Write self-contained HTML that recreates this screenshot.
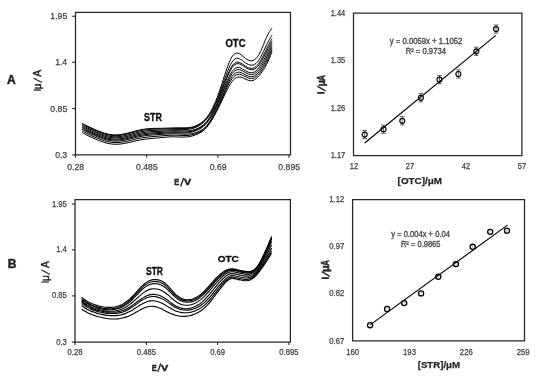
<!DOCTYPE html>
<html><head><meta charset="utf-8"><style>
html,body{margin:0;padding:0;background:#fff;width:550px;height:380px;overflow:hidden;position:relative}
</style></head><body>
<svg width="550" height="380" viewBox="0 0 550 380" style="position:absolute;left:0;top:0;will-change:transform">
<g font-family='"Liberation Sans", sans-serif'>
<path d="M75.5,12.4H290.5V154.9H75.5Z" fill="none" stroke="#262626" stroke-width="1.25"/>
<path d="M72.2,16.3H75.5" stroke="#262626" stroke-width="1.1"/>
<text x="67.20" y="19.48" font-size="9.5" text-anchor="end" fill="#404040" stroke="#404040" stroke-width="0.25" textLength="16.84" lengthAdjust="spacingAndGlyphs">1.95</text>
<path d="M72.2,62.3H75.5" stroke="#262626" stroke-width="1.1"/>
<text x="67.20" y="65.48" font-size="9.5" text-anchor="end" fill="#404040" stroke="#404040" stroke-width="0.25" textLength="12.03" lengthAdjust="spacingAndGlyphs">1.4</text>
<path d="M72.2,108.6H75.5" stroke="#262626" stroke-width="1.1"/>
<text x="67.20" y="111.78" font-size="9.5" text-anchor="end" fill="#404040" stroke="#404040" stroke-width="0.25" textLength="16.84" lengthAdjust="spacingAndGlyphs">0.85</text>
<path d="M72.2,154.9H75.5" stroke="#262626" stroke-width="1.1"/>
<text x="67.20" y="158.08" font-size="9.5" text-anchor="end" fill="#404040" stroke="#404040" stroke-width="0.25" textLength="12.03" lengthAdjust="spacingAndGlyphs">0.3</text>
<path d="M75.5,154.9V157.70000000000002" stroke="#262626" stroke-width="1.1"/>
<text x="75.70" y="169.68" font-size="9.5" text-anchor="middle" fill="#404040" stroke="#404040" stroke-width="0.25" textLength="16.84" lengthAdjust="spacingAndGlyphs">0.28</text>
<path d="M146.7,154.9V157.70000000000002" stroke="#262626" stroke-width="1.1"/>
<text x="146.90" y="169.68" font-size="9.5" text-anchor="middle" fill="#404040" stroke="#404040" stroke-width="0.25" textLength="21.66" lengthAdjust="spacingAndGlyphs">0.485</text>
<path d="M217.9,154.9V157.70000000000002" stroke="#262626" stroke-width="1.1"/>
<text x="218.10" y="169.68" font-size="9.5" text-anchor="middle" fill="#404040" stroke="#404040" stroke-width="0.25" textLength="16.84" lengthAdjust="spacingAndGlyphs">0.69</text>
<path d="M289.0,154.9V157.70000000000002" stroke="#262626" stroke-width="1.1"/>
<text x="289.20" y="169.68" font-size="9.5" text-anchor="middle" fill="#404040" stroke="#404040" stroke-width="0.25" textLength="21.66" lengthAdjust="spacingAndGlyphs">0.895</text>
<text x="176.80" y="185.20" font-size="9.4" text-anchor="middle" font-weight="bold" fill="#262626" stroke="#262626" stroke-width="0.5" textLength="5.00" lengthAdjust="spacingAndGlyphs">E</text>
<text x="187.60" y="185.20" font-size="9.4" text-anchor="middle" font-weight="bold" fill="#262626" stroke="#262626" stroke-width="0.5" textLength="7.20" lengthAdjust="spacingAndGlyphs">V</text>
<path d="M180.6,186.4L183.7,177.9" stroke="#262626" stroke-width="1.35"/>
<g transform="translate(40.90 90.80) rotate(-90)">
<rect x="0.10" y="-7.20" width="1.30" height="7.20" fill="#262626"/>
<text x="4.40" y="0" font-size="10.0" text-anchor="middle" fill="#262626" textLength="5.75" lengthAdjust="spacingAndGlyphs" stroke="#262626" stroke-width="0.45">μ</text>
<path d="M8.30,0.90L12.60,-7.20" stroke="#262626" stroke-width="1.15"/>
<text x="17.55" y="0" font-size="10.0" text-anchor="middle" fill="#262626" textLength="6.90" lengthAdjust="spacingAndGlyphs" stroke="#262626" stroke-width="0.45">A</text>
</g>
<text x="11.40" y="83.60" font-size="12.0" text-anchor="middle" font-weight="bold" fill="#262626" stroke="#262626" stroke-width="0.5">A</text>
<text x="153.00" y="121.30" font-size="10.4" text-anchor="middle" font-weight="bold" fill="#111" stroke="#111" stroke-width="0.35" textLength="17.80" lengthAdjust="spacingAndGlyphs">STR</text>
<text x="235.50" y="46.60" font-size="10.4" text-anchor="middle" font-weight="bold" fill="#111" stroke="#111" stroke-width="0.35" textLength="20.00" lengthAdjust="spacingAndGlyphs">OTC</text>
<path d="M82.00,123.20C82.50,123.48 84.00,124.32 85.00,124.85C86.00,125.38 87.00,125.89 88.00,126.38C89.00,126.87 90.00,127.34 91.00,127.80C92.00,128.27 93.00,128.71 94.00,129.14C95.00,129.58 96.00,130.01 97.00,130.42C98.00,130.83 99.00,131.24 100.00,131.62C101.00,132.00 102.00,132.37 103.00,132.70C104.00,133.03 105.00,133.35 106.00,133.62C107.00,133.89 108.00,134.13 109.00,134.32C110.00,134.51 111.00,134.66 112.00,134.75C113.00,134.85 114.00,134.90 115.00,134.91C116.00,134.92 117.00,134.88 118.00,134.81C119.00,134.74 120.00,134.62 121.00,134.48C122.00,134.34 123.00,134.15 124.00,133.95C125.00,133.75 126.00,133.51 127.00,133.27C128.00,133.03 129.00,132.76 130.00,132.49C131.00,132.22 132.00,131.93 133.00,131.66C134.00,131.39 135.00,131.11 136.00,130.85C137.00,130.60 138.00,130.35 139.00,130.13C140.00,129.91 141.00,129.71 142.00,129.53C143.00,129.35 144.00,129.20 145.00,129.06C146.00,128.92 147.00,128.81 148.00,128.72C149.00,128.63 150.00,128.56 151.00,128.50C152.00,128.45 153.00,128.41 154.00,128.39C155.00,128.36 156.00,128.35 157.00,128.33C158.00,128.32 159.00,128.32 160.00,128.30C161.00,128.28 162.00,128.26 163.00,128.24C164.00,128.21 165.00,128.18 166.00,128.15C167.00,128.12 168.00,128.08 169.00,128.05C170.00,128.02 171.00,127.98 172.00,127.95C173.00,127.92 174.00,127.89 175.00,127.86C176.00,127.84 177.00,127.82 178.00,127.81C179.00,127.80 180.00,127.80 181.00,127.81C182.00,127.81 183.00,127.83 184.00,127.83C185.00,127.82 186.00,127.81 187.00,127.75C188.00,127.69 189.00,127.62 190.00,127.47C191.00,127.32 192.00,127.13 193.00,126.86C194.00,126.58 195.00,126.24 196.00,125.81C197.00,125.38 198.00,124.88 199.00,124.28C200.00,123.68 201.00,123.01 202.00,122.21C203.00,121.41 204.00,120.52 205.00,119.46C206.00,118.39 207.00,117.21 208.00,115.81C209.00,114.41 210.00,112.85 211.00,111.06C212.00,109.27 213.00,107.27 214.00,105.07C215.00,102.86 216.00,100.44 217.00,97.84C218.00,95.24 219.00,92.40 220.00,89.47C221.00,86.55 222.00,83.37 223.00,80.30C224.00,77.22 225.00,73.96 226.00,71.04C227.00,68.13 228.00,65.20 229.00,62.82C230.00,60.44 231.00,58.32 232.00,56.78C233.00,55.23 234.00,54.17 235.00,53.56C236.00,52.95 237.00,52.92 238.00,53.11C239.00,53.30 240.00,54.02 241.00,54.70C242.00,55.38 243.00,56.40 244.00,57.20C245.00,57.99 246.00,58.88 247.00,59.47C248.00,60.06 249.00,60.54 250.00,60.72C251.00,60.90 252.00,60.90 253.00,60.54C254.00,60.18 255.00,59.56 256.00,58.55C257.00,57.54 258.00,56.19 259.00,54.47C260.00,52.74 261.00,50.46 262.00,48.19C263.00,45.92 264.00,43.18 265.00,40.85C266.00,38.52 267.00,36.14 268.00,34.21C269.00,32.29 270.33,30.35 271.00,29.28C271.67,28.21 271.83,28.04 272.00,27.80" fill="none" stroke="#000" stroke-width="1.0"/>
<path d="M82.00,123.94C82.50,124.21 84.00,125.06 85.00,125.59C86.00,126.12 87.00,126.63 88.00,127.12C89.00,127.62 90.00,128.09 91.00,128.55C92.00,129.01 93.00,129.45 94.00,129.89C95.00,130.32 96.00,130.75 97.00,131.16C98.00,131.57 99.00,131.98 100.00,132.36C101.00,132.74 102.00,133.11 103.00,133.44C104.00,133.78 105.00,134.09 106.00,134.36C107.00,134.63 108.00,134.87 109.00,135.06C110.00,135.25 111.00,135.40 112.00,135.50C113.00,135.60 114.00,135.65 115.00,135.66C116.00,135.67 117.00,135.64 118.00,135.56C119.00,135.49 120.00,135.38 121.00,135.24C122.00,135.10 123.00,134.92 124.00,134.72C125.00,134.52 126.00,134.28 127.00,134.04C128.00,133.80 129.00,133.53 130.00,133.27C131.00,133.00 132.00,132.72 133.00,132.45C134.00,132.18 135.00,131.90 136.00,131.65C137.00,131.40 138.00,131.15 139.00,130.94C140.00,130.72 141.00,130.52 142.00,130.34C143.00,130.16 144.00,130.01 145.00,129.87C146.00,129.73 147.00,129.62 148.00,129.53C149.00,129.43 150.00,129.36 151.00,129.30C152.00,129.24 153.00,129.21 154.00,129.17C155.00,129.14 156.00,129.13 157.00,129.11C158.00,129.09 159.00,129.08 160.00,129.05C161.00,129.03 162.00,129.00 163.00,128.97C164.00,128.94 165.00,128.90 166.00,128.87C167.00,128.83 168.00,128.79 169.00,128.76C170.00,128.72 171.00,128.69 172.00,128.66C173.00,128.63 174.00,128.60 175.00,128.58C176.00,128.56 177.00,128.55 178.00,128.54C179.00,128.53 180.00,128.54 181.00,128.54C182.00,128.54 183.00,128.56 184.00,128.55C185.00,128.54 186.00,128.52 187.00,128.46C188.00,128.39 189.00,128.31 190.00,128.15C191.00,128.00 192.00,127.80 193.00,127.52C194.00,127.24 195.00,126.89 196.00,126.46C197.00,126.03 198.00,125.54 199.00,124.94C200.00,124.34 201.00,123.68 202.00,122.88C203.00,122.08 204.00,121.17 205.00,120.14C206.00,119.11 207.00,118.03 208.00,116.70C209.00,115.37 210.00,113.88 211.00,112.18C212.00,110.48 213.00,108.57 214.00,106.50C215.00,104.42 216.00,102.14 217.00,99.72C218.00,97.31 219.00,94.67 220.00,91.99C221.00,89.31 222.00,86.41 223.00,83.63C224.00,80.85 225.00,77.93 226.00,75.30C227.00,72.67 228.00,70.06 229.00,67.86C230.00,65.66 231.00,63.60 232.00,62.11C233.00,60.62 234.00,59.56 235.00,58.92C236.00,58.28 237.00,58.16 238.00,58.26C239.00,58.37 240.00,58.96 241.00,59.54C242.00,60.12 243.00,61.04 244.00,61.75C245.00,62.47 246.00,63.30 247.00,63.84C248.00,64.39 249.00,64.81 250.00,65.01C251.00,65.22 252.00,65.35 253.00,65.08C254.00,64.82 255.00,64.29 256.00,63.42C257.00,62.56 258.00,61.37 259.00,59.89C260.00,58.40 261.00,56.47 262.00,54.52C263.00,52.56 264.00,50.25 265.00,48.17C266.00,46.09 267.00,43.95 268.00,42.04C269.00,40.12 270.33,37.87 271.00,36.69C271.67,35.50 271.83,35.22 272.00,34.92" fill="none" stroke="#000" stroke-width="1.0"/>
<path d="M82.00,125.04C82.50,125.32 84.00,126.17 85.00,126.70C86.00,127.24 87.00,127.74 88.00,128.24C89.00,128.73 90.00,129.20 91.00,129.66C92.00,130.12 93.00,130.57 94.00,131.00C95.00,131.44 96.00,131.87 97.00,132.28C98.00,132.69 99.00,133.10 100.00,133.48C101.00,133.86 102.00,134.23 103.00,134.56C104.00,134.89 105.00,135.20 106.00,135.47C107.00,135.74 108.00,135.98 109.00,136.18C110.00,136.37 111.00,136.52 112.00,136.62C113.00,136.72 114.00,136.77 115.00,136.78C116.00,136.80 117.00,136.76 118.00,136.69C119.00,136.62 120.00,136.51 121.00,136.37C122.00,136.24 123.00,136.06 124.00,135.86C125.00,135.67 126.00,135.44 127.00,135.20C128.00,134.96 129.00,134.70 130.00,134.44C131.00,134.18 132.00,133.90 133.00,133.63C134.00,133.37 135.00,133.10 136.00,132.85C137.00,132.60 138.00,132.36 139.00,132.14C140.00,131.93 141.00,131.73 142.00,131.55C143.00,131.38 144.00,131.22 145.00,131.08C146.00,130.95 147.00,130.83 148.00,130.74C149.00,130.64 150.00,130.57 151.00,130.50C152.00,130.44 153.00,130.40 154.00,130.36C155.00,130.32 156.00,130.29 157.00,130.27C158.00,130.24 159.00,130.21 160.00,130.18C161.00,130.15 162.00,130.11 163.00,130.07C164.00,130.03 165.00,129.99 166.00,129.94C167.00,129.90 168.00,129.86 169.00,129.82C170.00,129.79 171.00,129.75 172.00,129.72C173.00,129.69 174.00,129.67 175.00,129.66C176.00,129.64 177.00,129.64 178.00,129.63C179.00,129.63 180.00,129.64 181.00,129.63C182.00,129.62 183.00,129.62 184.00,129.59C185.00,129.55 186.00,129.52 187.00,129.43C188.00,129.34 189.00,129.24 190.00,129.06C191.00,128.88 192.00,128.66 193.00,128.36C194.00,128.06 195.00,127.69 196.00,127.25C197.00,126.80 198.00,126.30 199.00,125.69C200.00,125.08 201.00,124.41 202.00,123.60C203.00,122.79 204.00,121.84 205.00,120.83C206.00,119.81 207.00,118.80 208.00,117.52C209.00,116.24 210.00,114.79 211.00,113.15C212.00,111.51 213.00,109.67 214.00,107.68C215.00,105.69 216.00,103.52 217.00,101.23C218.00,98.94 219.00,96.46 220.00,93.95C221.00,91.44 222.00,88.74 223.00,86.16C224.00,83.59 225.00,80.91 226.00,78.48C227.00,76.05 228.00,73.66 229.00,71.58C230.00,69.51 231.00,67.50 232.00,66.05C233.00,64.60 234.00,63.54 235.00,62.88C236.00,62.22 237.00,62.03 238.00,62.07C239.00,62.11 240.00,62.61 241.00,63.12C242.00,63.63 243.00,64.47 244.00,65.13C245.00,65.79 246.00,66.57 247.00,67.08C248.00,67.59 249.00,68.00 250.00,68.19C251.00,68.37 252.00,68.46 253.00,68.19C254.00,67.91 255.00,67.37 256.00,66.52C257.00,65.67 258.00,64.50 259.00,63.09C260.00,61.68 261.00,59.90 262.00,58.07C263.00,56.25 264.00,54.13 265.00,52.14C266.00,50.15 267.00,48.08 268.00,46.13C269.00,44.18 270.33,41.70 271.00,40.43C271.67,39.16 271.83,38.81 272.00,38.49" fill="none" stroke="#000" stroke-width="1.0"/>
<path d="M82.00,126.14C82.50,126.42 84.00,127.28 85.00,127.81C86.00,128.35 87.00,128.86 88.00,129.35C89.00,129.84 90.00,130.32 91.00,130.78C92.00,131.24 93.00,131.68 94.00,132.12C95.00,132.56 96.00,132.98 97.00,133.39C98.00,133.81 99.00,134.21 100.00,134.59C101.00,134.97 102.00,135.34 103.00,135.67C104.00,136.00 105.00,136.32 106.00,136.59C107.00,136.86 108.00,137.10 109.00,137.29C110.00,137.48 111.00,137.63 112.00,137.73C113.00,137.84 114.00,137.89 115.00,137.90C116.00,137.92 117.00,137.89 118.00,137.82C119.00,137.76 120.00,137.65 121.00,137.51C122.00,137.38 123.00,137.20 124.00,137.01C125.00,136.82 126.00,136.59 127.00,136.36C128.00,136.13 129.00,135.87 130.00,135.61C131.00,135.35 132.00,135.08 133.00,134.82C134.00,134.56 135.00,134.29 136.00,134.04C137.00,133.80 138.00,133.56 139.00,133.35C140.00,133.14 141.00,132.94 142.00,132.77C143.00,132.59 144.00,132.44 145.00,132.30C146.00,132.16 147.00,132.05 148.00,131.95C149.00,131.85 150.00,131.77 151.00,131.70C152.00,131.63 153.00,131.59 154.00,131.54C155.00,131.49 156.00,131.46 157.00,131.42C158.00,131.39 159.00,131.35 160.00,131.31C161.00,131.27 162.00,131.22 163.00,131.17C164.00,131.12 165.00,131.07 166.00,131.02C167.00,130.97 168.00,130.93 169.00,130.89C170.00,130.85 171.00,130.81 172.00,130.78C173.00,130.76 174.00,130.74 175.00,130.73C176.00,130.72 177.00,130.72 178.00,130.73C179.00,130.74 180.00,130.76 181.00,130.79C182.00,130.82 183.00,130.89 184.00,130.90C185.00,130.92 186.00,130.93 187.00,130.89C188.00,130.85 189.00,130.78 190.00,130.65C191.00,130.51 192.00,130.33 193.00,130.07C194.00,129.82 195.00,129.50 196.00,129.11C197.00,128.72 198.00,128.29 199.00,127.75C200.00,127.22 201.00,126.63 202.00,125.90C203.00,125.17 204.00,124.37 205.00,123.37C206.00,122.36 207.00,121.21 208.00,119.87C209.00,118.53 210.00,117.02 211.00,115.33C212.00,113.64 213.00,111.76 214.00,109.75C215.00,107.74 216.00,105.57 217.00,103.27C218.00,100.97 219.00,98.50 220.00,95.97C221.00,93.45 222.00,90.73 223.00,88.10C224.00,85.47 225.00,82.69 226.00,80.19C227.00,77.69 228.00,75.18 229.00,73.08C230.00,70.99 231.00,69.08 232.00,67.64C233.00,66.21 234.00,65.15 235.00,64.48C236.00,63.80 237.00,63.59 238.00,63.61C239.00,63.62 240.00,64.08 241.00,64.56C242.00,65.04 243.00,65.84 244.00,66.48C245.00,67.12 246.00,67.88 247.00,68.38C248.00,68.88 249.00,69.26 250.00,69.46C251.00,69.67 252.00,69.84 253.00,69.61C254.00,69.39 255.00,68.90 256.00,68.12C257.00,67.34 258.00,66.26 259.00,64.95C260.00,63.64 261.00,61.97 262.00,60.25C263.00,58.53 264.00,56.54 265.00,54.63C266.00,52.71 267.00,50.72 268.00,48.77C269.00,46.81 270.33,44.22 271.00,42.91C271.67,41.59 271.83,41.20 272.00,40.86" fill="none" stroke="#000" stroke-width="1.0"/>
<path d="M82.00,127.25C82.50,127.53 84.00,128.39 85.00,128.92C86.00,129.46 87.00,129.97 88.00,130.46C89.00,130.96 90.00,131.43 91.00,131.89C92.00,132.36 93.00,132.80 94.00,133.24C95.00,133.67 96.00,134.10 97.00,134.51C98.00,134.92 99.00,135.33 100.00,135.71C101.00,136.09 102.00,136.45 103.00,136.79C104.00,137.12 105.00,137.43 106.00,137.70C107.00,137.97 108.00,138.21 109.00,138.40C110.00,138.60 111.00,138.75 112.00,138.85C113.00,138.95 114.00,139.01 115.00,139.03C116.00,139.04 117.00,139.01 118.00,138.95C119.00,138.89 120.00,138.78 121.00,138.65C122.00,138.52 123.00,138.35 124.00,138.16C125.00,137.97 126.00,137.75 127.00,137.52C128.00,137.29 129.00,137.04 130.00,136.78C131.00,136.53 132.00,136.26 133.00,136.00C134.00,135.75 135.00,135.48 136.00,135.24C137.00,135.00 138.00,134.77 139.00,134.56C140.00,134.35 141.00,134.15 142.00,133.98C143.00,133.81 144.00,133.65 145.00,133.51C146.00,133.38 147.00,133.26 148.00,133.16C149.00,133.06 150.00,132.98 151.00,132.90C152.00,132.83 153.00,132.78 154.00,132.72C155.00,132.67 156.00,132.63 157.00,132.58C158.00,132.54 159.00,132.49 160.00,132.44C161.00,132.39 162.00,132.33 163.00,132.27C164.00,132.21 165.00,132.15 166.00,132.10C167.00,132.05 168.00,131.99 169.00,131.95C170.00,131.91 171.00,131.87 172.00,131.85C173.00,131.82 174.00,131.81 175.00,131.81C176.00,131.80 177.00,131.81 178.00,131.83C179.00,131.84 180.00,131.87 181.00,131.89C182.00,131.91 183.00,131.95 184.00,131.95C185.00,131.95 186.00,131.95 187.00,131.89C188.00,131.83 189.00,131.74 190.00,131.59C191.00,131.43 192.00,131.23 193.00,130.95C194.00,130.68 195.00,130.35 196.00,129.95C197.00,129.55 198.00,129.11 199.00,128.57C200.00,128.03 201.00,127.44 202.00,126.70C203.00,125.96 204.00,125.14 205.00,124.15C206.00,123.16 207.00,122.08 208.00,120.78C209.00,119.48 210.00,118.00 211.00,116.37C212.00,114.74 213.00,112.92 214.00,111.00C215.00,109.08 216.00,107.00 217.00,104.83C218.00,102.66 219.00,100.34 220.00,97.98C221.00,95.62 222.00,93.10 223.00,90.66C224.00,88.23 225.00,85.68 226.00,83.37C227.00,81.06 228.00,78.76 229.00,76.79C230.00,74.82 231.00,72.96 232.00,71.56C233.00,70.17 234.00,69.11 235.00,68.41C236.00,67.72 237.00,67.44 238.00,67.39C239.00,67.34 240.00,67.71 241.00,68.12C242.00,68.52 243.00,69.25 244.00,69.83C245.00,70.41 246.00,71.13 247.00,71.60C248.00,72.06 249.00,72.46 250.00,72.62C251.00,72.77 252.00,72.82 253.00,72.52C254.00,72.23 255.00,71.67 256.00,70.84C257.00,70.02 258.00,68.88 259.00,67.57C260.00,66.27 261.00,64.68 262.00,63.01C263.00,61.35 264.00,59.47 265.00,57.58C266.00,55.69 267.00,53.70 268.00,51.68C269.00,49.65 270.33,46.85 271.00,45.44C271.67,44.04 271.83,43.61 272.00,43.24" fill="none" stroke="#000" stroke-width="1.0"/>
<path d="M82.00,128.26C82.50,128.54 84.00,129.40 85.00,129.94C86.00,130.48 87.00,130.99 88.00,131.48C89.00,131.98 90.00,132.45 91.00,132.92C92.00,133.38 93.00,133.82 94.00,134.26C95.00,134.70 96.00,135.12 97.00,135.53C98.00,135.94 99.00,136.35 100.00,136.73C101.00,137.11 102.00,137.48 103.00,137.81C104.00,138.14 105.00,138.45 106.00,138.72C107.00,138.99 108.00,139.23 109.00,139.43C110.00,139.62 111.00,139.77 112.00,139.88C113.00,139.98 114.00,140.04 115.00,140.05C116.00,140.07 117.00,140.04 118.00,139.98C119.00,139.92 120.00,139.82 121.00,139.69C122.00,139.56 123.00,139.39 124.00,139.21C125.00,139.02 126.00,138.81 127.00,138.58C128.00,138.36 129.00,138.11 130.00,137.86C131.00,137.61 132.00,137.34 133.00,137.09C134.00,136.84 135.00,136.57 136.00,136.34C137.00,136.10 138.00,135.87 139.00,135.66C140.00,135.45 141.00,135.26 142.00,135.09C143.00,134.92 144.00,134.76 145.00,134.63C146.00,134.49 147.00,134.37 148.00,134.27C149.00,134.16 150.00,134.08 151.00,134.00C152.00,133.93 153.00,133.87 154.00,133.81C155.00,133.75 156.00,133.70 157.00,133.64C158.00,133.59 159.00,133.53 160.00,133.47C161.00,133.41 162.00,133.34 163.00,133.28C164.00,133.22 165.00,133.15 166.00,133.09C167.00,133.03 168.00,132.97 169.00,132.93C170.00,132.88 171.00,132.84 172.00,132.82C173.00,132.80 174.00,132.79 175.00,132.79C176.00,132.80 177.00,132.81 178.00,132.83C179.00,132.85 180.00,132.88 181.00,132.89C182.00,132.91 183.00,132.94 184.00,132.92C185.00,132.91 186.00,132.89 187.00,132.82C188.00,132.74 189.00,132.64 190.00,132.47C191.00,132.30 192.00,132.08 193.00,131.79C194.00,131.51 195.00,131.16 196.00,130.76C197.00,130.35 198.00,129.91 199.00,129.36C200.00,128.82 201.00,128.23 202.00,127.49C203.00,126.75 204.00,125.92 205.00,124.93C206.00,123.95 207.00,122.88 208.00,121.60C209.00,120.32 210.00,118.85 211.00,117.24C212.00,115.63 213.00,113.83 214.00,111.95C215.00,110.07 216.00,108.05 217.00,105.94C218.00,103.83 219.00,101.59 220.00,99.31C221.00,97.03 222.00,94.61 223.00,92.27C224.00,89.93 225.00,87.49 226.00,85.27C227.00,83.04 228.00,80.83 229.00,78.92C230.00,77.01 231.00,75.19 232.00,73.82C233.00,72.45 234.00,71.39 235.00,70.68C236.00,69.97 237.00,69.66 238.00,69.57C239.00,69.49 240.00,69.80 241.00,70.17C242.00,70.53 243.00,71.21 244.00,71.76C245.00,72.31 246.00,73.00 247.00,73.45C248.00,73.89 249.00,74.28 250.00,74.43C251.00,74.59 252.00,74.66 253.00,74.39C254.00,74.11 255.00,73.57 256.00,72.78C257.00,72.00 258.00,70.91 259.00,69.68C260.00,68.45 261.00,66.96 262.00,65.38C263.00,63.81 264.00,62.06 265.00,60.23C266.00,58.40 267.00,56.45 268.00,54.41C269.00,52.36 270.33,49.41 271.00,47.94C271.67,46.48 271.83,46.00 272.00,45.61" fill="none" stroke="#000" stroke-width="1.0"/>
<path d="M82.00,129.27C82.50,129.55 84.00,130.42 85.00,130.96C86.00,131.50 87.00,132.01 88.00,132.50C89.00,133.00 90.00,133.48 91.00,133.94C92.00,134.40 93.00,134.85 94.00,135.28C95.00,135.72 96.00,136.14 97.00,136.56C98.00,136.97 99.00,137.37 100.00,137.75C101.00,138.13 102.00,138.50 103.00,138.83C104.00,139.16 105.00,139.47 106.00,139.74C107.00,140.01 108.00,140.26 109.00,140.45C110.00,140.64 111.00,140.79 112.00,140.90C113.00,141.01 114.00,141.06 115.00,141.08C116.00,141.10 117.00,141.07 118.00,141.02C119.00,140.96 120.00,140.86 121.00,140.73C122.00,140.61 123.00,140.44 124.00,140.26C125.00,140.08 126.00,139.87 127.00,139.65C128.00,139.42 129.00,139.18 130.00,138.93C131.00,138.69 132.00,138.42 133.00,138.17C134.00,137.92 135.00,137.67 136.00,137.43C137.00,137.20 138.00,136.97 139.00,136.77C140.00,136.56 141.00,136.37 142.00,136.20C143.00,136.03 144.00,135.88 145.00,135.74C146.00,135.60 147.00,135.49 148.00,135.38C149.00,135.27 150.00,135.18 151.00,135.10C152.00,135.02 153.00,134.96 154.00,134.89C155.00,134.82 156.00,134.77 157.00,134.71C158.00,134.64 159.00,134.58 160.00,134.51C161.00,134.44 162.00,134.36 163.00,134.29C164.00,134.22 165.00,134.14 166.00,134.08C167.00,134.01 168.00,133.95 169.00,133.90C170.00,133.86 171.00,133.82 172.00,133.80C173.00,133.78 174.00,133.77 175.00,133.78C176.00,133.79 177.00,133.80 178.00,133.83C179.00,133.86 180.00,133.91 181.00,133.96C182.00,134.02 183.00,134.12 184.00,134.16C185.00,134.20 186.00,134.24 187.00,134.21C188.00,134.19 189.00,134.13 190.00,134.01C191.00,133.88 192.00,133.70 193.00,133.47C194.00,133.23 195.00,132.94 196.00,132.59C197.00,132.25 198.00,131.87 199.00,131.40C200.00,130.93 201.00,130.43 202.00,129.78C203.00,129.12 204.00,128.44 205.00,127.48C206.00,126.52 207.00,125.33 208.00,124.01C209.00,122.69 210.00,121.17 211.00,119.54C212.00,117.91 213.00,116.10 214.00,114.22C215.00,112.35 216.00,110.36 217.00,108.29C218.00,106.21 219.00,104.02 220.00,101.78C221.00,99.54 222.00,97.17 223.00,94.85C224.00,92.52 225.00,90.06 226.00,87.84C227.00,85.61 228.00,83.36 229.00,81.47C230.00,79.59 231.00,77.87 232.00,76.52C233.00,75.18 234.00,74.12 235.00,73.39C236.00,72.67 237.00,72.31 238.00,72.18C239.00,72.05 240.00,72.30 241.00,72.62C242.00,72.93 243.00,73.56 244.00,74.07C245.00,74.58 246.00,75.24 247.00,75.67C248.00,76.09 249.00,76.47 250.00,76.61C251.00,76.75 252.00,76.79 253.00,76.50C254.00,76.21 255.00,75.65 256.00,74.87C257.00,74.09 258.00,73.01 259.00,71.82C260.00,70.63 261.00,69.23 262.00,67.72C263.00,66.21 264.00,64.56 265.00,62.76C266.00,60.97 267.00,59.04 268.00,56.95C269.00,54.86 270.33,51.74 271.00,50.21C271.67,48.68 271.83,48.16 272.00,47.75" fill="none" stroke="#000" stroke-width="1.0"/>
<path d="M82.00,130.74C82.50,131.03 84.00,131.90 85.00,132.44C86.00,132.98 87.00,133.49 88.00,133.99C89.00,134.49 90.00,134.96 91.00,135.43C92.00,135.89 93.00,136.33 94.00,136.77C95.00,137.21 96.00,137.63 97.00,138.04C98.00,138.45 99.00,138.86 100.00,139.24C101.00,139.62 102.00,139.98 103.00,140.31C104.00,140.65 105.00,140.96 106.00,141.23C107.00,141.50 108.00,141.74 109.00,141.94C110.00,142.13 111.00,142.28 112.00,142.39C113.00,142.50 114.00,142.56 115.00,142.58C116.00,142.60 117.00,142.58 118.00,142.52C119.00,142.46 120.00,142.37 121.00,142.25C122.00,142.12 123.00,141.97 124.00,141.79C125.00,141.61 126.00,141.41 127.00,141.19C128.00,140.97 129.00,140.73 130.00,140.49C131.00,140.25 132.00,140.00 133.00,139.75C134.00,139.51 135.00,139.26 136.00,139.03C137.00,138.80 138.00,138.58 139.00,138.38C140.00,138.17 141.00,137.99 142.00,137.82C143.00,137.65 144.00,137.50 145.00,137.36C146.00,137.22 147.00,137.10 148.00,136.99C149.00,136.88 150.00,136.79 151.00,136.70C152.00,136.62 153.00,136.54 154.00,136.47C155.00,136.39 156.00,136.33 157.00,136.25C158.00,136.18 159.00,136.10 160.00,136.01C161.00,135.93 162.00,135.84 163.00,135.76C164.00,135.67 165.00,135.59 166.00,135.51C167.00,135.44 168.00,135.37 169.00,135.32C170.00,135.27 171.00,135.23 172.00,135.21C173.00,135.20 174.00,135.20 175.00,135.21C176.00,135.23 177.00,135.26 178.00,135.29C179.00,135.33 180.00,135.38 181.00,135.42C182.00,135.46 183.00,135.53 184.00,135.54C185.00,135.55 186.00,135.55 187.00,135.50C188.00,135.44 189.00,135.35 190.00,135.20C191.00,135.04 192.00,134.83 193.00,134.57C194.00,134.30 195.00,133.98 196.00,133.62C197.00,133.25 198.00,132.86 199.00,132.38C200.00,131.89 201.00,131.38 202.00,130.71C203.00,130.04 204.00,129.32 205.00,128.36C206.00,127.39 207.00,126.23 208.00,124.92C209.00,123.60 210.00,122.09 211.00,120.48C212.00,118.87 213.00,117.08 214.00,115.24C215.00,113.40 216.00,111.47 217.00,109.46C218.00,107.45 219.00,105.33 220.00,103.17C221.00,101.01 222.00,98.73 223.00,96.49C224.00,94.26 225.00,91.90 226.00,89.75C227.00,87.60 228.00,85.44 229.00,83.61C230.00,81.78 231.00,80.10 232.00,78.78C233.00,77.46 234.00,76.40 235.00,75.66C236.00,74.92 237.00,74.53 238.00,74.36C239.00,74.20 240.00,74.39 241.00,74.67C242.00,74.94 243.00,75.53 244.00,76.00C245.00,76.48 246.00,77.11 247.00,77.52C248.00,77.92 249.00,78.29 250.00,78.42C251.00,78.55 252.00,78.59 253.00,78.30C254.00,78.01 255.00,77.45 256.00,76.69C257.00,75.93 258.00,74.88 259.00,73.73C260.00,72.59 261.00,71.26 262.00,69.81C263.00,68.36 264.00,66.80 265.00,65.03C266.00,63.27 267.00,61.36 268.00,59.23C269.00,57.09 270.33,53.82 271.00,52.23C271.67,50.63 271.83,50.08 272.00,49.65" fill="none" stroke="#000" stroke-width="1.0"/>
<path d="M82.00,132.40C82.50,132.68 84.00,133.56 85.00,134.10C86.00,134.64 87.00,135.16 88.00,135.66C89.00,136.16 90.00,136.64 91.00,137.10C92.00,137.56 93.00,138.01 94.00,138.45C95.00,138.88 96.00,139.31 97.00,139.72C98.00,140.13 99.00,140.53 100.00,140.91C101.00,141.29 102.00,141.65 103.00,141.99C104.00,142.32 105.00,142.63 106.00,142.90C107.00,143.17 108.00,143.41 109.00,143.61C110.00,143.80 111.00,143.96 112.00,144.07C113.00,144.17 114.00,144.23 115.00,144.26C116.00,144.28 117.00,144.26 118.00,144.21C119.00,144.16 120.00,144.07 121.00,143.95C122.00,143.83 123.00,143.68 124.00,143.51C125.00,143.34 126.00,143.14 127.00,142.93C128.00,142.72 129.00,142.48 130.00,142.25C131.00,142.02 132.00,141.77 133.00,141.53C134.00,141.29 135.00,141.05 136.00,140.82C137.00,140.60 138.00,140.38 139.00,140.18C140.00,139.99 141.00,139.81 142.00,139.64C143.00,139.47 144.00,139.32 145.00,139.18C146.00,139.04 147.00,138.92 148.00,138.81C149.00,138.70 150.00,138.60 151.00,138.50C152.00,138.41 153.00,138.33 154.00,138.24C155.00,138.16 156.00,138.08 157.00,137.99C158.00,137.90 159.00,137.80 160.00,137.71C161.00,137.61 162.00,137.50 163.00,137.41C164.00,137.31 165.00,137.21 166.00,137.13C167.00,137.05 168.00,136.97 169.00,136.92C170.00,136.87 171.00,136.82 172.00,136.81C173.00,136.79 174.00,136.81 175.00,136.83C176.00,136.85 177.00,136.90 178.00,136.94C179.00,136.97 180.00,137.03 181.00,137.05C182.00,137.07 183.00,137.09 184.00,137.07C185.00,137.05 186.00,137.01 187.00,136.92C188.00,136.82 189.00,136.69 190.00,136.50C191.00,136.31 192.00,136.05 193.00,135.75C194.00,135.45 195.00,135.10 196.00,134.71C197.00,134.31 198.00,133.90 199.00,133.39C200.00,132.88 201.00,132.35 202.00,131.66C203.00,130.97 204.00,130.20 205.00,129.24C206.00,128.27 207.00,127.14 208.00,125.85C209.00,124.56 210.00,123.06 211.00,121.48C212.00,119.90 213.00,118.14 214.00,116.36C215.00,114.58 216.00,112.71 217.00,110.78C218.00,108.85 219.00,106.83 220.00,104.78C221.00,102.72 222.00,100.57 223.00,98.46C224.00,96.34 225.00,94.12 226.00,92.08C227.00,90.05 228.00,88.01 229.00,86.26C230.00,84.51 231.00,82.88 232.00,81.58C233.00,80.29 234.00,79.23 235.00,78.48C236.00,77.72 237.00,77.28 238.00,77.07C239.00,76.86 240.00,76.99 241.00,77.21C242.00,77.43 243.00,77.96 244.00,78.40C245.00,78.83 246.00,79.44 247.00,79.82C248.00,80.20 249.00,80.58 250.00,80.68C251.00,80.78 252.00,80.74 253.00,80.41C254.00,80.08 255.00,79.47 256.00,78.68C257.00,77.90 258.00,76.82 259.00,75.69C260.00,74.56 261.00,73.30 262.00,71.91C263.00,70.51 264.00,69.04 265.00,67.30C266.00,65.57 267.00,63.68 268.00,61.50C269.00,59.32 270.33,55.90 271.00,54.25C271.67,52.59 271.83,52.00 272.00,51.55" fill="none" stroke="#000" stroke-width="1.0"/>
<path d="M75.0,199.6H290.4V342.1H75.0Z" fill="none" stroke="#262626" stroke-width="1.25"/>
<path d="M71.8,204.0H75.0" stroke="#262626" stroke-width="1.1"/>
<text x="66.80" y="206.50" font-size="8.4" text-anchor="end" fill="#404040" stroke="#404040" stroke-width="0.25" textLength="14.89" lengthAdjust="spacingAndGlyphs">1.95</text>
<path d="M71.8,249.8H75.0" stroke="#262626" stroke-width="1.1"/>
<text x="66.80" y="252.30" font-size="8.4" text-anchor="end" fill="#404040" stroke="#404040" stroke-width="0.25" textLength="10.63" lengthAdjust="spacingAndGlyphs">1.4</text>
<path d="M71.8,295.9H75.0" stroke="#262626" stroke-width="1.1"/>
<text x="66.80" y="298.40" font-size="8.4" text-anchor="end" fill="#404040" stroke="#404040" stroke-width="0.25" textLength="14.89" lengthAdjust="spacingAndGlyphs">0.85</text>
<path d="M71.8,342.1H75.0" stroke="#262626" stroke-width="1.1"/>
<text x="66.80" y="344.60" font-size="8.4" text-anchor="end" fill="#404040" stroke="#404040" stroke-width="0.25" textLength="10.63" lengthAdjust="spacingAndGlyphs">0.3</text>
<path d="M75.0,342.1V344.90000000000003" stroke="#262626" stroke-width="1.1"/>
<text x="75.00" y="354.80" font-size="8.4" text-anchor="middle" fill="#404040" stroke="#404040" stroke-width="0.25" textLength="14.89" lengthAdjust="spacingAndGlyphs">0.28</text>
<path d="M146.4,342.1V344.90000000000003" stroke="#262626" stroke-width="1.1"/>
<text x="146.40" y="354.80" font-size="8.4" text-anchor="middle" fill="#404040" stroke="#404040" stroke-width="0.25" textLength="19.15" lengthAdjust="spacingAndGlyphs">0.485</text>
<path d="M217.6,342.1V344.90000000000003" stroke="#262626" stroke-width="1.1"/>
<text x="217.60" y="354.80" font-size="8.4" text-anchor="middle" fill="#404040" stroke="#404040" stroke-width="0.25" textLength="14.89" lengthAdjust="spacingAndGlyphs">0.69</text>
<path d="M288.9,342.1V344.90000000000003" stroke="#262626" stroke-width="1.1"/>
<text x="288.90" y="354.80" font-size="8.4" text-anchor="middle" fill="#404040" stroke="#404040" stroke-width="0.25" textLength="19.15" lengthAdjust="spacingAndGlyphs">0.895</text>
<text x="154.20" y="370.80" font-size="9.4" text-anchor="middle" font-weight="bold" fill="#262626" stroke="#262626" stroke-width="0.5" textLength="5.00" lengthAdjust="spacingAndGlyphs">E</text>
<text x="164.70" y="370.80" font-size="9.4" text-anchor="middle" font-weight="bold" fill="#262626" stroke="#262626" stroke-width="0.5" textLength="7.20" lengthAdjust="spacingAndGlyphs">V</text>
<path d="M157.7,372.1L160.8,363.4" stroke="#262626" stroke-width="1.35"/>
<g transform="translate(48.90 282.80) rotate(-90)">
<rect x="0.20" y="-7.49" width="1.20" height="7.49" fill="#262626"/>
<text x="4.65" y="0" font-size="10.4" text-anchor="middle" fill="#262626" textLength="5.88" lengthAdjust="spacingAndGlyphs" stroke="#262626" stroke-width="0.45">μ</text>
<path d="M8.30,0.90L13.10,-7.49" stroke="#262626" stroke-width="1.15"/>
<text x="18.35" y="0" font-size="10.4" text-anchor="middle" fill="#262626" textLength="6.90" lengthAdjust="spacingAndGlyphs" stroke="#262626" stroke-width="0.45">A</text>
</g>
<text x="12.00" y="267.50" font-size="12.0" text-anchor="middle" font-weight="bold" fill="#262626" stroke="#262626" stroke-width="0.5">B</text>
<text x="154.50" y="274.50" font-size="10.4" text-anchor="middle" font-weight="bold" fill="#111" stroke="#111" stroke-width="0.35" textLength="17.00" lengthAdjust="spacingAndGlyphs">STR</text>
<text x="228.30" y="261.90" font-size="9.9" text-anchor="middle" font-weight="bold" fill="#111" stroke="#111" stroke-width="0.35" textLength="21.00" lengthAdjust="spacingAndGlyphs">OTC</text>
<path d="M81.60,297.10C82.10,297.49 83.60,298.73 84.60,299.44C85.60,300.15 86.60,300.79 87.60,301.38C88.60,301.97 89.60,302.50 90.60,302.99C91.60,303.47 92.60,303.91 93.60,304.30C94.60,304.70 95.60,305.05 96.60,305.36C97.60,305.68 98.60,305.96 99.60,306.20C100.60,306.44 101.60,306.65 102.60,306.82C103.60,306.99 104.60,307.13 105.60,307.23C106.60,307.33 107.60,307.39 108.60,307.41C109.60,307.43 110.60,307.42 111.60,307.34C112.60,307.27 113.60,307.16 114.60,306.98C115.60,306.81 116.60,306.58 117.60,306.28C118.60,305.97 119.60,305.61 120.60,305.16C121.60,304.72 122.60,304.20 123.60,303.60C124.60,303.00 125.60,302.31 126.60,301.56C127.60,300.80 128.60,299.95 129.60,299.05C130.60,298.15 131.60,297.16 132.60,296.14C133.60,295.12 134.60,294.03 135.60,292.95C136.60,291.86 137.60,290.72 138.60,289.64C139.60,288.56 140.60,287.46 141.60,286.47C142.60,285.48 143.60,284.52 144.60,283.71C145.60,282.90 146.60,282.18 147.60,281.61C148.60,281.03 149.60,280.59 150.60,280.27C151.60,279.94 152.60,279.76 153.60,279.66C154.60,279.56 155.60,279.56 156.60,279.67C157.60,279.77 158.60,279.95 159.60,280.27C160.60,280.59 161.60,281.02 162.60,281.59C163.60,282.16 164.60,282.87 165.60,283.71C166.60,284.55 167.60,285.58 168.60,286.64C169.60,287.69 170.60,288.91 171.60,290.02C172.60,291.13 173.60,292.30 174.60,293.30C175.60,294.29 176.60,295.22 177.60,295.99C178.60,296.76 179.60,297.41 180.60,297.94C181.60,298.47 182.60,298.87 183.60,299.16C184.60,299.45 185.60,299.62 186.60,299.69C187.60,299.76 188.60,299.72 189.60,299.59C190.60,299.46 191.60,299.24 192.60,298.92C193.60,298.61 194.60,298.20 195.60,297.70C196.60,297.19 197.60,296.60 198.60,295.91C199.60,295.23 200.60,294.45 201.60,293.59C202.60,292.74 203.60,291.80 204.60,290.80C205.60,289.81 206.60,288.74 207.60,287.65C208.60,286.56 209.60,285.40 210.60,284.28C211.60,283.15 212.60,281.98 213.60,280.89C214.60,279.79 215.60,278.70 216.60,277.70C217.60,276.69 218.60,275.73 219.60,274.86C220.60,273.99 221.60,273.18 222.60,272.46C223.60,271.74 224.60,271.07 225.60,270.53C226.60,269.99 227.60,269.51 228.60,269.22C229.60,268.93 230.60,268.80 231.60,268.78C232.60,268.77 233.60,268.94 234.60,269.11C235.60,269.27 236.60,269.54 237.60,269.77C238.60,270.00 239.60,270.25 240.60,270.48C241.60,270.70 242.60,270.94 243.60,271.12C244.60,271.31 245.60,271.51 246.60,271.58C247.60,271.64 248.60,271.68 249.60,271.51C250.60,271.33 251.60,271.07 252.60,270.54C253.60,270.01 254.60,269.32 255.60,268.33C256.60,267.35 257.60,266.12 258.60,264.61C259.60,263.09 260.60,261.20 261.60,259.24C262.60,257.28 263.60,255.02 264.60,252.83C265.60,250.64 266.60,248.42 267.60,246.11C268.60,243.80 269.93,240.59 270.60,238.97C271.27,237.35 271.43,236.81 271.60,236.38" fill="none" stroke="#000" stroke-width="1.1"/>
<path d="M81.60,298.60C82.10,298.98 83.60,300.19 84.60,300.89C85.60,301.59 86.60,302.22 87.60,302.80C88.60,303.38 89.60,303.90 90.60,304.38C91.60,304.86 92.60,305.28 93.60,305.67C94.60,306.06 95.60,306.41 96.60,306.73C97.60,307.04 98.60,307.32 99.60,307.56C100.60,307.80 101.60,308.01 102.60,308.19C103.60,308.37 104.60,308.51 105.60,308.62C106.60,308.72 107.60,308.80 108.60,308.83C109.60,308.85 110.60,308.84 111.60,308.77C112.60,308.70 113.60,308.58 114.60,308.40C115.60,308.22 116.60,308.00 117.60,307.70C118.60,307.40 119.60,307.04 120.60,306.60C121.60,306.17 122.60,305.66 123.60,305.07C124.60,304.48 125.60,303.81 126.60,303.07C127.60,302.33 128.60,301.50 129.60,300.61C130.60,299.73 131.60,298.76 132.60,297.76C133.60,296.76 134.60,295.68 135.60,294.61C136.60,293.54 137.60,292.41 138.60,291.34C139.60,290.27 140.60,289.18 141.60,288.19C142.60,287.20 143.60,286.22 144.60,285.41C145.60,284.61 146.60,283.93 147.60,283.37C148.60,282.82 149.60,282.40 150.60,282.09C151.60,281.78 152.60,281.61 153.60,281.53C154.60,281.44 155.60,281.46 156.60,281.58C157.60,281.69 158.60,281.89 159.60,282.21C160.60,282.54 161.60,282.97 162.60,283.54C163.60,284.11 164.60,284.80 165.60,285.62C166.60,286.43 167.60,287.43 168.60,288.44C169.60,289.46 170.60,290.63 171.60,291.69C172.60,292.75 173.60,293.87 174.60,294.81C175.60,295.76 176.60,296.64 177.60,297.37C178.60,298.11 179.60,298.72 180.60,299.22C181.60,299.72 182.60,300.09 183.60,300.37C184.60,300.64 185.60,300.79 186.60,300.85C187.60,300.91 188.60,300.87 189.60,300.74C190.60,300.61 191.60,300.39 192.60,300.08C193.60,299.77 194.60,299.37 195.60,298.88C196.60,298.38 197.60,297.80 198.60,297.13C199.60,296.46 200.60,295.69 201.60,294.85C202.60,294.02 203.60,293.09 204.60,292.11C205.60,291.13 206.60,290.06 207.60,288.98C208.60,287.90 209.60,286.75 210.60,285.62C211.60,284.49 212.60,283.32 213.60,282.21C214.60,281.10 215.60,279.99 216.60,278.96C217.60,277.93 218.60,276.94 219.60,276.04C220.60,275.13 221.60,274.29 222.60,273.53C223.60,272.77 224.60,272.06 225.60,271.48C226.60,270.90 227.60,270.39 228.60,270.07C229.60,269.75 230.60,269.60 231.60,269.56C232.60,269.53 233.60,269.71 234.60,269.87C235.60,270.03 236.60,270.31 237.60,270.53C238.60,270.76 239.60,271.02 240.60,271.24C241.60,271.47 242.60,271.70 243.60,271.88C244.60,272.06 245.60,272.26 246.60,272.31C247.60,272.37 248.60,272.40 249.60,272.21C250.60,272.02 251.60,271.73 252.60,271.19C253.60,270.64 254.60,269.94 255.60,268.95C256.60,267.96 257.60,266.74 258.60,265.24C259.60,263.75 260.60,261.90 261.60,259.99C262.60,258.07 263.60,255.87 264.60,253.74C265.60,251.61 266.60,249.45 267.60,247.20C268.60,244.94 269.93,241.82 270.60,240.23C271.27,238.65 271.43,238.13 271.60,237.71" fill="none" stroke="#000" stroke-width="1.1"/>
<path d="M81.60,299.62C82.10,300.00 83.60,301.19 84.60,301.88C85.60,302.57 86.60,303.19 87.60,303.76C88.60,304.33 89.60,304.85 90.60,305.32C91.60,305.79 92.60,306.22 93.60,306.61C94.60,306.99 95.60,307.34 96.60,307.65C97.60,307.97 98.60,308.24 99.60,308.49C100.60,308.73 101.60,308.94 102.60,309.12C103.60,309.30 104.60,309.45 105.60,309.56C106.60,309.67 107.60,309.76 108.60,309.79C109.60,309.82 110.60,309.81 111.60,309.75C112.60,309.69 113.60,309.58 114.60,309.41C115.60,309.25 116.60,309.04 117.60,308.75C118.60,308.47 119.60,308.13 120.60,307.71C121.60,307.30 122.60,306.81 123.60,306.25C124.60,305.69 125.60,305.05 126.60,304.34C127.60,303.62 128.60,302.83 129.60,301.98C130.60,301.13 131.60,300.20 132.60,299.24C133.60,298.27 134.60,297.24 135.60,296.21C136.60,295.18 137.60,294.09 138.60,293.06C139.60,292.03 140.60,290.97 141.60,290.02C142.60,289.07 143.60,288.12 144.60,287.34C145.60,286.57 146.60,285.92 147.60,285.39C148.60,284.86 149.60,284.46 150.60,284.18C151.60,283.89 152.60,283.73 153.60,283.67C154.60,283.60 155.60,283.64 156.60,283.76C157.60,283.89 158.60,284.10 159.60,284.44C160.60,284.77 161.60,285.20 162.60,285.76C163.60,286.32 164.60,287.00 165.60,287.80C166.60,288.59 167.60,289.54 168.60,290.51C169.60,291.48 170.60,292.59 171.60,293.59C172.60,294.60 173.60,295.65 174.60,296.55C175.60,297.44 176.60,298.26 177.60,298.95C178.60,299.64 179.60,300.22 180.60,300.68C181.60,301.15 182.60,301.49 183.60,301.74C184.60,301.99 185.60,302.12 186.60,302.17C187.60,302.22 188.60,302.16 189.60,302.03C190.60,301.89 191.60,301.67 192.60,301.36C193.60,301.04 194.60,300.65 195.60,300.16C196.60,299.67 197.60,299.09 198.60,298.43C199.60,297.77 200.60,297.02 201.60,296.19C202.60,295.36 203.60,294.44 204.60,293.47C205.60,292.50 206.60,291.44 207.60,290.36C208.60,289.28 209.60,288.12 210.60,286.99C211.60,285.85 212.60,284.66 213.60,283.54C214.60,282.41 215.60,281.28 216.60,280.23C217.60,279.17 218.60,278.15 219.60,277.21C220.60,276.28 221.60,275.40 222.60,274.60C223.60,273.81 224.60,273.05 225.60,272.43C226.60,271.82 227.60,271.26 228.60,270.91C229.60,270.56 230.60,270.39 231.60,270.34C232.60,270.29 233.60,270.47 234.60,270.63C235.60,270.79 236.60,271.07 237.60,271.30C238.60,271.53 239.60,271.79 240.60,272.01C241.60,272.23 242.60,272.46 243.60,272.63C244.60,272.81 245.60,273.00 246.60,273.05C247.60,273.09 248.60,273.11 249.60,272.91C250.60,272.71 251.60,272.40 252.60,271.84C253.60,271.28 254.60,270.55 255.60,269.56C256.60,268.57 257.60,267.35 258.60,265.88C259.60,264.41 260.60,262.60 261.60,260.73C262.60,258.86 263.60,256.73 264.60,254.66C265.60,252.58 266.60,250.47 267.60,248.28C268.60,246.09 269.93,243.04 270.60,241.50C271.27,239.96 271.43,239.46 271.60,239.05" fill="none" stroke="#000" stroke-width="1.1"/>
<path d="M81.60,301.06C82.10,301.43 83.60,302.60 84.60,303.28C85.60,303.95 86.60,304.56 87.60,305.12C88.60,305.68 89.60,306.19 90.60,306.65C91.60,307.12 92.60,307.54 93.60,307.92C94.60,308.31 95.60,308.65 96.60,308.96C97.60,309.27 98.60,309.55 99.60,309.79C100.60,310.04 101.60,310.25 102.60,310.44C103.60,310.62 104.60,310.77 105.60,310.89C106.60,311.01 107.60,311.10 108.60,311.15C109.60,311.20 110.60,311.21 111.60,311.18C112.60,311.15 113.60,311.09 114.60,310.97C115.60,310.85 116.60,310.68 117.60,310.45C118.60,310.22 119.60,309.94 120.60,309.59C121.60,309.24 122.60,308.83 123.60,308.34C124.60,307.86 125.60,307.30 126.60,306.68C127.60,306.06 128.60,305.37 129.60,304.63C130.60,303.88 131.60,303.06 132.60,302.22C133.60,301.38 134.60,300.47 135.60,299.57C136.60,298.67 137.60,297.72 138.60,296.82C139.60,295.92 140.60,295.01 141.60,294.19C142.60,293.37 143.60,292.58 144.60,291.91C145.60,291.24 146.60,290.64 147.60,290.18C148.60,289.72 149.60,289.37 150.60,289.13C151.60,288.89 152.60,288.77 153.60,288.74C154.60,288.71 155.60,288.79 156.60,288.95C157.60,289.12 158.60,289.36 159.60,289.71C160.60,290.06 161.60,290.51 162.60,291.05C163.60,291.60 164.60,292.24 165.60,292.97C166.60,293.70 167.60,294.56 168.60,295.42C169.60,296.28 170.60,297.24 171.60,298.11C172.60,298.99 173.60,299.89 174.60,300.66C175.60,301.42 176.60,302.12 177.60,302.70C178.60,303.29 179.60,303.77 180.60,304.15C181.60,304.54 182.60,304.82 183.60,305.00C184.60,305.19 185.60,305.26 186.60,305.26C187.60,305.25 188.60,305.14 189.60,304.96C190.60,304.78 191.60,304.53 192.60,304.19C193.60,303.85 194.60,303.43 195.60,302.92C196.60,302.42 197.60,301.83 198.60,301.16C199.60,300.49 200.60,299.73 201.60,298.90C202.60,298.06 203.60,297.14 204.60,296.15C205.60,295.17 206.60,294.09 207.60,292.98C208.60,291.87 209.60,290.68 210.60,289.50C211.60,288.32 212.60,287.08 213.60,285.90C214.60,284.72 215.60,283.54 216.60,282.44C217.60,281.33 218.60,280.27 219.60,279.27C220.60,278.28 221.60,277.34 222.60,276.48C223.60,275.61 224.60,274.78 225.60,274.10C226.60,273.42 227.60,272.79 228.60,272.39C229.60,271.99 230.60,271.78 231.60,271.70C232.60,271.63 233.60,271.81 234.60,271.96C235.60,272.12 236.60,272.41 237.60,272.64C238.60,272.87 239.60,273.13 240.60,273.35C241.60,273.57 242.60,273.79 243.60,273.95C244.60,274.12 245.60,274.30 246.60,274.33C247.60,274.36 248.60,274.36 249.60,274.14C250.60,273.91 251.60,273.56 252.60,272.98C253.60,272.39 254.60,271.63 255.60,270.64C256.60,269.64 257.60,268.42 258.60,266.99C259.60,265.55 260.60,263.82 261.60,262.03C262.60,260.24 263.60,258.23 264.60,256.25C265.60,254.28 266.60,252.27 267.60,250.18C268.60,248.09 269.93,245.19 270.60,243.72C271.27,242.26 271.43,241.78 271.60,241.39" fill="none" stroke="#000" stroke-width="1.1"/>
<path d="M81.60,302.14C82.10,302.50 83.60,303.65 84.60,304.32C85.60,304.99 86.60,305.59 87.60,306.14C88.60,306.70 89.60,307.19 90.60,307.66C91.60,308.12 92.60,308.53 93.60,308.91C94.60,309.29 95.60,309.63 96.60,309.94C97.60,310.25 98.60,310.53 99.60,310.77C100.60,311.02 101.60,311.24 102.60,311.42C103.60,311.61 104.60,311.77 105.60,311.89C106.60,312.02 107.60,312.10 108.60,312.17C109.60,312.23 110.60,312.28 111.60,312.29C112.60,312.31 113.60,312.30 114.60,312.24C115.60,312.18 116.60,312.07 117.60,311.91C118.60,311.75 119.60,311.54 120.60,311.27C121.60,311.00 122.60,310.67 123.60,310.28C124.60,309.89 125.60,309.44 126.60,308.93C127.60,308.43 128.60,307.85 129.60,307.24C130.60,306.62 131.60,305.94 132.60,305.25C133.60,304.55 134.60,303.80 135.60,303.06C136.60,302.32 137.60,301.54 138.60,300.81C139.60,300.09 140.60,299.35 141.60,298.70C142.60,298.06 143.60,297.48 144.60,296.94C145.60,296.40 146.60,295.87 147.60,295.48C148.60,295.09 149.60,294.78 150.60,294.60C151.60,294.41 152.60,294.34 153.60,294.35C154.60,294.37 155.60,294.49 156.60,294.69C157.60,294.89 158.60,295.18 159.60,295.54C160.60,295.91 161.60,296.37 162.60,296.90C163.60,297.42 164.60,298.03 165.60,298.69C166.60,299.35 167.60,300.10 168.60,300.84C169.60,301.58 170.60,302.39 171.60,303.11C172.60,303.84 173.60,304.58 174.60,305.20C175.60,305.82 176.60,306.39 177.60,306.85C178.60,307.32 179.60,307.69 180.60,307.99C181.60,308.28 182.60,308.49 183.60,308.61C184.60,308.73 185.60,308.76 186.60,308.71C187.60,308.66 188.60,308.52 189.60,308.32C190.60,308.11 191.60,307.84 192.60,307.50C193.60,307.15 194.60,306.73 195.60,306.23C196.60,305.74 197.60,305.17 198.60,304.51C199.60,303.86 200.60,303.13 201.60,302.31C202.60,301.50 203.60,300.59 204.60,299.62C205.60,298.64 206.60,297.58 207.60,296.47C208.60,295.35 209.60,294.15 210.60,292.95C211.60,291.74 212.60,290.46 213.60,289.23C214.60,288.01 215.60,286.77 216.60,285.60C217.60,284.43 218.60,283.29 219.60,282.22C220.60,281.14 221.60,280.11 222.60,279.15C223.60,278.19 224.60,277.26 225.60,276.48C226.60,275.71 227.60,274.98 228.60,274.51C229.60,274.03 230.60,273.76 231.60,273.65C232.60,273.55 233.60,273.71 234.60,273.87C235.60,274.02 236.60,274.33 237.60,274.56C238.60,274.79 239.60,275.05 240.60,275.27C241.60,275.48 242.60,275.69 243.60,275.84C244.60,275.99 245.60,276.16 246.60,276.17C247.60,276.18 248.60,276.15 249.60,275.89C250.60,275.63 251.60,275.22 252.60,274.60C253.60,273.98 254.60,273.18 255.60,272.17C256.60,271.17 257.60,269.96 258.60,268.58C259.60,267.20 260.60,265.56 261.60,263.89C262.60,262.22 263.60,260.37 264.60,258.54C265.60,256.70 266.60,254.84 267.60,252.90C268.60,250.96 269.93,248.25 270.60,246.89C271.27,245.53 271.43,245.10 271.60,244.74" fill="none" stroke="#000" stroke-width="1.1"/>
<path d="M81.60,303.46C82.10,303.82 83.60,304.95 84.60,305.60C85.60,306.26 86.60,306.84 87.60,307.39C88.60,307.93 89.60,308.42 90.60,308.88C91.60,309.33 92.60,309.74 93.60,310.12C94.60,310.49 95.60,310.83 96.60,311.14C97.60,311.45 98.60,311.72 99.60,311.97C100.60,312.22 101.60,312.44 102.60,312.63C103.60,312.82 104.60,312.98 105.60,313.11C106.60,313.24 107.60,313.34 108.60,313.41C109.60,313.48 110.60,313.54 111.60,313.56C112.60,313.57 113.60,313.57 114.60,313.52C115.60,313.46 116.60,313.36 117.60,313.21C118.60,313.06 119.60,312.87 120.60,312.61C121.60,312.35 122.60,312.05 123.60,311.68C124.60,311.31 125.60,310.88 126.60,310.40C127.60,309.92 128.60,309.37 129.60,308.79C130.60,308.20 131.60,307.55 132.60,306.89C133.60,306.22 134.60,305.50 135.60,304.79C136.60,304.08 137.60,303.33 138.60,302.63C139.60,301.93 140.60,301.22 141.60,300.59C142.60,299.97 143.60,299.40 144.60,298.88C145.60,298.36 146.60,297.86 147.60,297.49C148.60,297.13 149.60,296.85 150.60,296.68C151.60,296.51 152.60,296.46 153.60,296.49C154.60,296.52 155.60,296.66 156.60,296.87C157.60,297.09 158.60,297.39 159.60,297.77C160.60,298.14 161.60,298.61 162.60,299.12C163.60,299.64 164.60,300.24 165.60,300.87C166.60,301.50 167.60,302.22 168.60,302.91C169.60,303.60 170.60,304.35 171.60,305.02C172.60,305.69 173.60,306.36 174.60,306.93C175.60,307.50 176.60,308.01 177.60,308.43C178.60,308.85 179.60,309.19 180.60,309.45C181.60,309.71 182.60,309.87 183.60,309.99C184.60,310.10 185.60,310.15 186.60,310.13C187.60,310.12 188.60,310.05 189.60,309.90C190.60,309.75 191.60,309.54 192.60,309.26C193.60,308.97 194.60,308.62 195.60,308.20C196.60,307.77 197.60,307.28 198.60,306.71C199.60,306.13 200.60,305.49 201.60,304.75C202.60,304.02 203.60,303.21 204.60,302.32C205.60,301.42 206.60,300.44 207.60,299.40C208.60,298.36 209.60,297.22 210.60,296.06C211.60,294.91 212.60,293.68 213.60,292.46C214.60,291.24 215.60,289.98 216.60,288.76C217.60,287.54 218.60,286.31 219.60,285.16C220.60,284.00 221.60,282.87 222.60,281.83C223.60,280.78 224.60,279.73 225.60,278.86C226.60,278.00 227.60,277.16 228.60,276.62C229.60,276.08 230.60,275.74 231.60,275.60C232.60,275.46 233.60,275.62 234.60,275.77C235.60,275.92 236.60,276.24 237.60,276.48C238.60,276.71 239.60,276.97 240.60,277.18C241.60,277.39 242.60,277.59 243.60,277.72C244.60,277.86 245.60,278.02 246.60,278.00C247.60,277.99 248.60,277.93 249.60,277.64C250.60,277.34 251.60,276.89 252.60,276.23C253.60,275.57 254.60,274.72 255.60,273.71C256.60,272.70 257.60,271.49 258.60,270.16C259.60,268.84 260.60,267.31 261.60,265.75C262.60,264.19 263.60,262.51 264.60,260.82C265.60,259.13 266.60,257.41 267.60,255.61C268.60,253.82 269.93,251.31 270.60,250.06C271.27,248.80 271.43,248.41 271.60,248.08" fill="none" stroke="#000" stroke-width="1.1"/>
<path d="M81.60,305.62C82.10,305.97 83.60,307.06 84.60,307.69C85.60,308.33 86.60,308.90 87.60,309.43C88.60,309.96 89.60,310.43 90.60,310.88C91.60,311.32 92.60,311.72 93.60,312.09C94.60,312.46 95.60,312.79 96.60,313.10C97.60,313.41 98.60,313.68 99.60,313.93C100.60,314.18 101.60,314.41 102.60,314.60C103.60,314.80 104.60,314.97 105.60,315.11C106.60,315.25 107.60,315.36 108.60,315.45C109.60,315.54 110.60,315.60 111.60,315.64C112.60,315.67 113.60,315.69 114.60,315.65C115.60,315.61 116.60,315.54 117.60,315.42C118.60,315.30 119.60,315.14 120.60,314.92C121.60,314.71 122.60,314.44 123.60,314.12C124.60,313.81 125.60,313.43 126.60,313.01C127.60,312.59 128.60,312.11 129.60,311.59C130.60,311.08 131.60,310.50 132.60,309.91C133.60,309.31 134.60,308.67 135.60,308.03C136.60,307.40 137.60,306.73 138.60,306.10C139.60,305.48 140.60,304.84 141.60,304.28C142.60,303.72 143.60,303.20 144.60,302.74C145.60,302.29 146.60,301.84 147.60,301.53C148.60,301.21 149.60,300.98 150.60,300.85C151.60,300.72 152.60,300.70 153.60,300.77C154.60,300.83 155.60,301.00 156.60,301.24C157.60,301.49 158.60,301.82 159.60,302.21C160.60,302.60 161.60,303.07 162.60,303.58C163.60,304.08 164.60,304.65 165.60,305.23C166.60,305.81 167.60,306.44 168.60,307.04C169.60,307.64 170.60,308.27 171.60,308.83C172.60,309.39 173.60,309.93 174.60,310.39C175.60,310.85 176.60,311.26 177.60,311.59C178.60,311.92 179.60,312.18 180.60,312.37C181.60,312.56 182.60,312.67 183.60,312.74C184.60,312.80 185.60,312.81 186.60,312.77C187.60,312.73 188.60,312.64 189.60,312.48C190.60,312.32 191.60,312.10 192.60,311.81C193.60,311.52 194.60,311.18 195.60,310.76C196.60,310.35 197.60,309.87 198.60,309.32C199.60,308.76 200.60,308.14 201.60,307.42C202.60,306.71 203.60,305.92 204.60,305.04C205.60,304.16 206.60,303.19 207.60,302.15C208.60,301.11 209.60,299.97 210.60,298.80C211.60,297.63 212.60,296.37 213.60,295.12C214.60,293.87 215.60,292.56 216.60,291.29C217.60,290.02 218.60,288.73 219.60,287.51C220.60,286.29 221.60,285.09 222.60,283.97C223.60,282.84 224.60,281.71 225.60,280.77C226.60,279.83 227.60,278.91 228.60,278.31C229.60,277.71 230.60,277.33 231.60,277.16C232.60,276.99 233.60,277.15 234.60,277.29C235.60,277.43 236.60,277.78 237.60,278.01C238.60,278.25 239.60,278.51 240.60,278.71C241.60,278.92 242.60,279.10 243.60,279.23C244.60,279.36 245.60,279.50 246.60,279.47C247.60,279.44 248.60,279.36 249.60,279.04C250.60,278.72 251.60,278.22 252.60,277.53C253.60,276.85 254.60,275.95 255.60,274.93C256.60,273.92 257.60,272.71 258.60,271.43C259.60,270.15 260.60,268.70 261.60,267.24C262.60,265.77 263.60,264.22 264.60,262.64C265.60,261.07 266.60,259.46 267.60,257.79C268.60,256.11 269.93,253.76 270.60,252.59C271.27,251.42 271.43,251.06 271.60,250.76" fill="none" stroke="#000" stroke-width="1.1"/>
<path d="M81.60,309.10C82.10,309.43 83.60,310.46 84.60,311.06C85.60,311.67 86.60,312.21 87.60,312.71C88.60,313.22 89.60,313.68 90.60,314.10C91.60,314.53 92.60,314.91 93.60,315.27C94.60,315.63 95.60,315.96 96.60,316.26C97.60,316.56 98.60,316.84 99.60,317.09C100.60,317.35 101.60,317.58 102.60,317.78C103.60,317.99 104.60,318.17 105.60,318.33C106.60,318.49 107.60,318.63 108.60,318.73C109.60,318.84 110.60,318.92 111.60,318.96C112.60,319.01 113.60,319.03 114.60,319.01C115.60,318.99 116.60,318.94 117.60,318.85C118.60,318.76 119.60,318.63 120.60,318.45C121.60,318.28 122.60,318.06 123.60,317.80C124.60,317.54 125.60,317.23 126.60,316.87C127.60,316.52 128.60,316.11 129.60,315.67C130.60,315.22 131.60,314.73 132.60,314.21C133.60,313.70 134.60,313.13 135.60,312.58C136.60,312.02 137.60,311.43 138.60,310.87C139.60,310.31 140.60,309.74 141.60,309.23C142.60,308.73 143.60,308.23 144.60,307.83C145.60,307.43 146.60,307.08 147.60,306.82C148.60,306.57 149.60,306.39 150.60,306.32C151.60,306.25 152.60,306.27 153.60,306.38C154.60,306.49 155.60,306.70 156.60,306.98C157.60,307.26 158.60,307.64 159.60,308.04C160.60,308.45 161.60,308.94 162.60,309.42C163.60,309.91 164.60,310.44 165.60,310.95C166.60,311.46 167.60,311.99 168.60,312.47C169.60,312.94 170.60,313.42 171.60,313.83C172.60,314.24 173.60,314.62 174.60,314.94C175.60,315.26 176.60,315.53 177.60,315.74C178.60,315.95 179.60,316.10 180.60,316.21C181.60,316.31 182.60,316.35 183.60,316.35C184.60,316.34 185.60,316.28 186.60,316.17C187.60,316.06 188.60,315.90 189.60,315.68C190.60,315.47 191.60,315.20 192.60,314.88C193.60,314.55 194.60,314.18 195.60,313.74C196.60,313.29 197.60,312.80 198.60,312.23C199.60,311.65 200.60,311.01 201.60,310.28C202.60,309.55 203.60,308.75 204.60,307.84C205.60,306.94 206.60,305.94 207.60,304.86C208.60,303.78 209.60,302.59 210.60,301.37C211.60,300.14 212.60,298.81 213.60,297.50C214.60,296.19 215.60,294.82 216.60,293.50C217.60,292.18 218.60,290.85 219.60,289.57C220.60,288.29 221.60,287.03 222.60,285.84C223.60,284.65 224.60,283.44 225.60,282.44C226.60,281.43 227.60,280.45 228.60,279.79C229.60,279.14 230.60,278.71 231.60,278.52C232.60,278.32 233.60,278.48 234.60,278.62C235.60,278.76 236.60,279.12 237.60,279.36C238.60,279.59 239.60,279.86 240.60,280.05C241.60,280.25 242.60,280.43 243.60,280.55C244.60,280.67 245.60,280.80 246.60,280.76C247.60,280.71 248.60,280.61 249.60,280.27C250.60,279.92 251.60,279.38 252.60,278.67C253.60,277.96 254.60,277.03 255.60,276.01C256.60,274.99 257.60,273.79 258.60,272.54C259.60,271.30 260.60,269.92 261.60,268.54C262.60,267.16 263.60,265.72 264.60,264.24C265.60,262.77 266.60,261.26 267.60,259.69C268.60,258.11 269.93,255.91 270.60,254.81C271.27,253.71 271.43,253.38 271.60,253.10" fill="none" stroke="#000" stroke-width="1.1"/>
<path d="M353.5,13.2H521.9V155.6H353.5Z" fill="none" stroke="#262626" stroke-width="1.25"/>
<text x="345.20" y="15.73" font-size="8.2" text-anchor="end" fill="#404040" stroke="#404040" stroke-width="0.25" textLength="14.54" lengthAdjust="spacingAndGlyphs">1.44</text>
<text x="345.20" y="63.43" font-size="8.2" text-anchor="end" fill="#404040" stroke="#404040" stroke-width="0.25" textLength="14.54" lengthAdjust="spacingAndGlyphs">1.35</text>
<text x="345.20" y="111.23" font-size="8.2" text-anchor="end" fill="#404040" stroke="#404040" stroke-width="0.25" textLength="14.54" lengthAdjust="spacingAndGlyphs">1.26</text>
<text x="345.20" y="158.13" font-size="8.2" text-anchor="end" fill="#404040" stroke="#404040" stroke-width="0.25" textLength="14.54" lengthAdjust="spacingAndGlyphs">1.17</text>
<text x="354.00" y="168.63" font-size="8.2" text-anchor="middle" fill="#404040" stroke="#404040" stroke-width="0.25" textLength="8.31" lengthAdjust="spacingAndGlyphs">12</text>
<text x="410.00" y="168.63" font-size="8.2" text-anchor="middle" fill="#404040" stroke="#404040" stroke-width="0.25" textLength="8.31" lengthAdjust="spacingAndGlyphs">27</text>
<text x="466.00" y="168.63" font-size="8.2" text-anchor="middle" fill="#404040" stroke="#404040" stroke-width="0.25" textLength="8.31" lengthAdjust="spacingAndGlyphs">42</text>
<text x="522.00" y="168.63" font-size="8.2" text-anchor="middle" fill="#404040" stroke="#404040" stroke-width="0.25" textLength="8.31" lengthAdjust="spacingAndGlyphs">57</text>
<text x="419.80" y="183.90" font-size="9.8" text-anchor="middle" font-weight="bold" fill="#262626" stroke="#262626" stroke-width="0.25" textLength="44.40" lengthAdjust="spacingAndGlyphs">[OTC]/μM</text>
<g transform="translate(324.50 94.00) rotate(-90)">
<rect x="0.20" y="-7.20" width="1.80" height="7.20" fill="#262626"/>
<path d="M3.10,0.90L7.80,-7.20" stroke="#262626" stroke-width="1.5"/>
<text x="10.70" y="0" font-size="10.0" text-anchor="middle" fill="#262626" textLength="6.10" lengthAdjust="spacingAndGlyphs" font-weight="bold" stroke="#262626" stroke-width="0.5">μ</text>
<text x="16.20" y="0" font-size="10.0" text-anchor="middle" fill="#262626" textLength="5.80" lengthAdjust="spacingAndGlyphs" font-weight="bold" stroke="#262626" stroke-width="0.5">A</text>
</g>
<text x="426.10" y="44.20" font-size="8.2" text-anchor="middle" fill="#404040" stroke="#404040" stroke-width="0.3" textLength="72.60" lengthAdjust="spacingAndGlyphs">y = 0.0059x + 1.1052</text>
<text x="425.80" y="53.70" font-size="8.2" text-anchor="middle" fill="#404040" stroke="#404040" stroke-width="0.3" textLength="40.30" lengthAdjust="spacingAndGlyphs">R² = 0.9734</text>
<path d="M364.7,143.0L495.8,35.4" stroke="#000" stroke-width="1.15"/>
<path d="M364.70,130.50V138.70M362.40,130.50H367.00M362.40,138.70H367.00" stroke="#333" stroke-width="0.75"/>
<circle cx="364.70" cy="134.60" r="2.5" fill="none" stroke="#000" stroke-width="1.15"/>
<path d="M383.50,125.10V133.30M381.20,125.10H385.80M381.20,133.30H385.80" stroke="#333" stroke-width="0.75"/>
<circle cx="383.50" cy="129.20" r="2.5" fill="none" stroke="#000" stroke-width="1.15"/>
<path d="M402.30,116.70V124.90M400.00,116.70H404.60M400.00,124.90H404.60" stroke="#333" stroke-width="0.75"/>
<circle cx="402.30" cy="120.80" r="2.5" fill="none" stroke="#000" stroke-width="1.15"/>
<path d="M420.90,93.60V101.80M418.60,93.60H423.20M418.60,101.80H423.20" stroke="#333" stroke-width="0.75"/>
<circle cx="420.90" cy="97.70" r="2.5" fill="none" stroke="#000" stroke-width="1.15"/>
<path d="M439.50,75.50V83.70M437.20,75.50H441.80M437.20,83.70H441.80" stroke="#333" stroke-width="0.75"/>
<circle cx="439.50" cy="79.60" r="2.5" fill="none" stroke="#000" stroke-width="1.15"/>
<path d="M458.40,69.90V78.10M456.10,69.90H460.70M456.10,78.10H460.70" stroke="#333" stroke-width="0.75"/>
<circle cx="458.40" cy="74.00" r="2.5" fill="none" stroke="#000" stroke-width="1.15"/>
<path d="M476.30,47.20V55.40M474.00,47.20H478.60M474.00,55.40H478.60" stroke="#333" stroke-width="0.75"/>
<circle cx="476.30" cy="51.30" r="2.5" fill="none" stroke="#000" stroke-width="1.15"/>
<path d="M496.05,24.95V33.15M493.75,24.95H498.35M493.75,33.15H498.35" stroke="#333" stroke-width="0.75"/>
<circle cx="496.05" cy="29.05" r="2.5" fill="none" stroke="#000" stroke-width="1.15"/>
<path d="M352.6,199.7H524.5V340.8H352.6Z" fill="none" stroke="#262626" stroke-width="1.25"/>
<text x="344.30" y="202.13" font-size="8.5" text-anchor="end" fill="#404040" stroke="#404040" stroke-width="0.25" textLength="15.07" lengthAdjust="spacingAndGlyphs">1.12</text>
<text x="344.30" y="249.23" font-size="8.5" text-anchor="end" fill="#404040" stroke="#404040" stroke-width="0.25" textLength="15.07" lengthAdjust="spacingAndGlyphs">0.97</text>
<text x="344.30" y="295.83" font-size="8.5" text-anchor="end" fill="#404040" stroke="#404040" stroke-width="0.25" textLength="15.07" lengthAdjust="spacingAndGlyphs">0.82</text>
<text x="344.30" y="343.53" font-size="8.5" text-anchor="end" fill="#404040" stroke="#404040" stroke-width="0.25" textLength="15.07" lengthAdjust="spacingAndGlyphs">0.67</text>
<text x="352.60" y="354.63" font-size="8.5" text-anchor="middle" fill="#404040" stroke="#404040" stroke-width="0.25" textLength="12.93" lengthAdjust="spacingAndGlyphs">160</text>
<text x="409.50" y="354.63" font-size="8.5" text-anchor="middle" fill="#404040" stroke="#404040" stroke-width="0.25" textLength="12.93" lengthAdjust="spacingAndGlyphs">193</text>
<text x="466.30" y="354.63" font-size="8.5" text-anchor="middle" fill="#404040" stroke="#404040" stroke-width="0.25" textLength="12.93" lengthAdjust="spacingAndGlyphs">226</text>
<text x="523.20" y="354.63" font-size="8.5" text-anchor="middle" fill="#404040" stroke="#404040" stroke-width="0.25" textLength="12.93" lengthAdjust="spacingAndGlyphs">259</text>
<text x="438.85" y="368.40" font-size="9.8" text-anchor="middle" font-weight="bold" fill="#262626" stroke="#262626" stroke-width="0.25" textLength="42.30" lengthAdjust="spacingAndGlyphs">[STR]/μM</text>
<g transform="translate(328.90 279.20) rotate(-90)">
<rect x="0.20" y="-7.20" width="1.80" height="7.20" fill="#262626"/>
<path d="M2.90,0.90L7.50,-7.20" stroke="#262626" stroke-width="1.5"/>
<text x="10.60" y="0" font-size="10.0" text-anchor="middle" fill="#262626" textLength="6.83" lengthAdjust="spacingAndGlyphs" font-weight="bold" stroke="#262626" stroke-width="0.5">μ</text>
<text x="16.40" y="0" font-size="10.0" text-anchor="middle" fill="#262626" textLength="5.80" lengthAdjust="spacingAndGlyphs" font-weight="bold" stroke="#262626" stroke-width="0.5">A</text>
</g>
<text x="420.60" y="237.10" font-size="8.2" text-anchor="middle" fill="#404040" stroke="#404040" stroke-width="0.3" textLength="58.70" lengthAdjust="spacingAndGlyphs">y = 0.004x + 0.04</text>
<text x="420.70" y="246.50" font-size="8.2" text-anchor="middle" fill="#404040" stroke="#404040" stroke-width="0.3" textLength="39.60" lengthAdjust="spacingAndGlyphs">R² = 0.9865</text>
<path d="M370.1,324.9L507.5,225.1" stroke="#000" stroke-width="1.15"/>
<path d="M370.10,324.00V326.40" stroke="#999" stroke-width="0.7"/>
<circle cx="370.10" cy="325.20" r="2.55" fill="none" stroke="#000" stroke-width="1.3"/>
<path d="M387.10,307.80V310.20" stroke="#999" stroke-width="0.7"/>
<circle cx="387.10" cy="309.00" r="2.55" fill="none" stroke="#000" stroke-width="1.3"/>
<path d="M404.20,301.90V304.30" stroke="#999" stroke-width="0.7"/>
<circle cx="404.20" cy="303.10" r="2.55" fill="none" stroke="#000" stroke-width="1.3"/>
<path d="M421.10,292.20V294.60" stroke="#999" stroke-width="0.7"/>
<circle cx="421.10" cy="293.40" r="2.55" fill="none" stroke="#000" stroke-width="1.3"/>
<path d="M438.30,275.60V278.00" stroke="#999" stroke-width="0.7"/>
<circle cx="438.30" cy="276.80" r="2.55" fill="none" stroke="#000" stroke-width="1.3"/>
<path d="M455.90,262.90V265.30" stroke="#999" stroke-width="0.7"/>
<circle cx="455.90" cy="264.10" r="2.55" fill="none" stroke="#000" stroke-width="1.3"/>
<path d="M472.70,245.60V248.00" stroke="#999" stroke-width="0.7"/>
<circle cx="472.70" cy="246.80" r="2.55" fill="none" stroke="#000" stroke-width="1.3"/>
<path d="M490.20,230.65V233.05" stroke="#999" stroke-width="0.7"/>
<circle cx="490.20" cy="231.85" r="2.55" fill="none" stroke="#000" stroke-width="1.3"/>
<path d="M507.00,229.50V231.90" stroke="#999" stroke-width="0.7"/>
<circle cx="507.00" cy="230.70" r="2.55" fill="none" stroke="#000" stroke-width="1.3"/>
</g></svg>
</body></html>
